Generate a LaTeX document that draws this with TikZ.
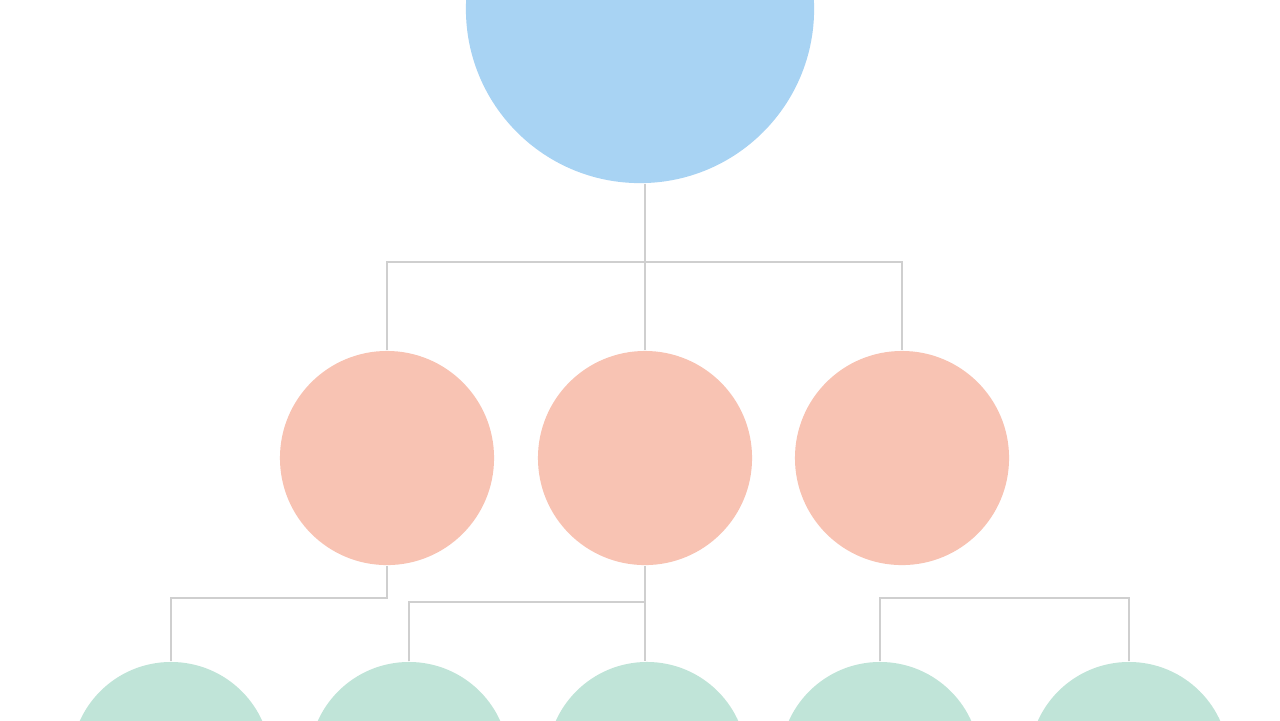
\documentclass[tikz,border=0pt]{standalone}
\usepackage{tikz}
\usetikzlibrary{positioning,calc}
\definecolor{topblue}{HTML}{A8D3F3}
\definecolor{midsalmon}{HTML}{F8C3B3}
\definecolor{lowgreen}{HTML}{C0E4D8}
\definecolor{linkgray}{HTML}{CFCFCF}
\begin{document}
\begin{tikzpicture}[x=0.01cm,y=-0.01cm,
    bubble/.style={circle,draw=none,inner sep=0pt},
    link/.style={draw=linkgray,line width=0.6pt}]
            \useasboundingbox (0,0) rectangle (1280,720);
            \clip (0,0) rectangle (1280,720);
            % top level
            \node[bubble,fill=topblue,minimum size=3.48cm] (root) at (640,9) {};
            % middle level
            \node[bubble,fill=midsalmon,minimum size=2.14cm] (m1) at (387,458) {};
            \node[bubble,fill=midsalmon,minimum size=2.14cm] (m2) at (645,458) {};
            \node[bubble,fill=midsalmon,minimum size=2.14cm] (m3) at (902,458) {};
            % bottom level
            \node[bubble,fill=lowgreen,minimum size=2cm] (b1) at (171,762) {};
            \node[bubble,fill=lowgreen,minimum size=2cm] (b2) at (409,762) {};
            \node[bubble,fill=lowgreen,minimum size=2cm] (b3) at (647,762) {};
            \node[bubble,fill=lowgreen,minimum size=2cm] (b4) at (880,762) {};
            \node[bubble,fill=lowgreen,minimum size=2cm] (b5) at (1129,762) {};
            % connectors
            \coordinate (hub) at (646,262);
            \coordinate (j1) at (280,598);
            \coordinate (j2) at (646,602);
            \coordinate (j3) at (1000,598);
            \draw[link] (root.south -| m2.north) -- (m2.north);
            \draw[link] (m1.north) |- (hub) -| (m3.north);
            \draw[link] (m1.south) |- (j1) -| (b1.north);
            \draw[link] (m2.south) -- (m2.south |- b3.north);
            \draw[link] (b2.north) |- (j2);
            \draw[link] (b4.north) |- (j3) -| (b5.north);
        \end{tikzpicture}
\end{document}
